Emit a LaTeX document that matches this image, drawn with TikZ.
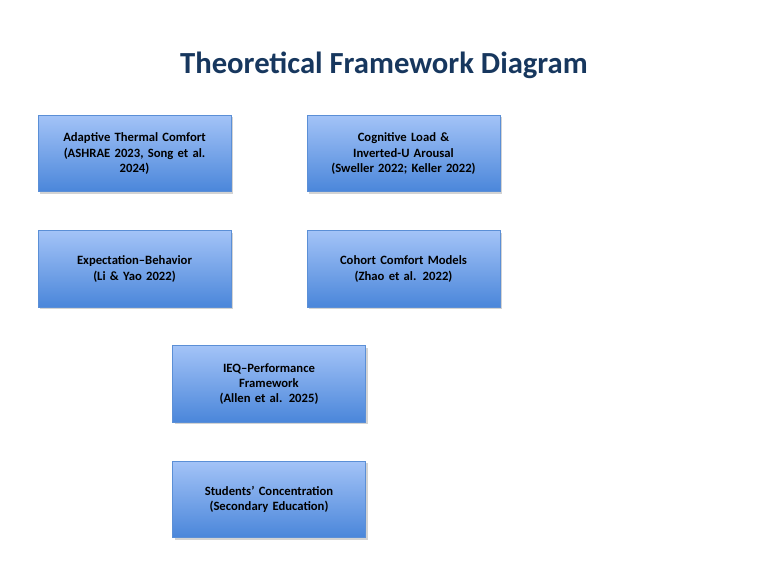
\documentclass[tikz,border=0pt]{standalone}
\usepackage{fontspec}
\setmainfont{Carlito}
\usetikzlibrary{shadows}
\definecolor{titleblue}{HTML}{17375E}
\definecolor{topblue}{HTML}{A3C3F7}
\definecolor{botblue}{HTML}{4A86DA}
\definecolor{edgeblue}{HTML}{5B8FD6}
\tikzset{
  fbox/.style={draw=edgeblue, line width=0.6pt, top color=topblue, bottom color=botblue,
    minimum width=144.75pt, minimum height=57.5pt, text width=138pt, align=center,
    font=\fontsize{9.5pt}{11.5pt}\selectfont\bfseries, inner sep=2pt,
    drop shadow={shadow xshift=1.5pt, shadow yshift=-1.5pt, opacity=0.35}},
}
\begin{document}
\begin{tikzpicture}[x=0.75pt,y=-0.75pt]
\useasboundingbox (0,0) rectangle (768,576);
\node[font=\fontsize{23pt}{27pt}\selectfont\bfseries, text=titleblue] (title) at (384,65) {Theoretical Framework Diagram};
\node[fbox] (a) at (134.5,153.5) {Adaptive Thermal Comfort\\(ASHRAE 2023, Song et al.\\2024)};
\node[fbox] (b) at (403.5,153.5) {Cognitive Load \&\\Inverted-U Arousal\\(Sweller 2022; Keller 2022)};
\node[fbox] (c) at (134.5,269) {Expectation–Behavior\\(Li \& Yao 2022)};
\node[fbox] (d) at (403.5,269) {Cohort Comfort Models\\(Zhao et al. 2022)};
\node[fbox] (e) at (269,384) {IEQ–Performance\\Framework\\(Allen et al. 2025)};
\node[fbox] (f) at (269,499.5) {Students’ Concentration\\(Secondary Education)};
\end{tikzpicture}
\end{document}
